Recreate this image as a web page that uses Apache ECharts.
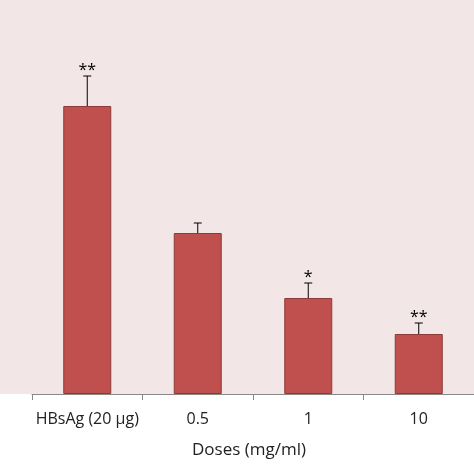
<!doctype html>
<html>
<head>
<meta charset="utf-8">
<script src="https://cdn.jsdelivr.net/npm/echarts@6/dist/echarts.min.js"></script>
<style>html,body{margin:0;background:#fff}#c{width:474px;height:474px}</style>
</head>
<body>
<div id="c"></div>
<script>
var categories = ['HBsAg (20 μg)', '0.5', '1', '10'];
var values = [288, 161, 96, 60];
var errors = [30, 10, 15, 11];
var marks = ['**', '', '*', '**'];

var chart = echarts.init(document.getElementById('c'));
chart.setOption({
	graphic: [{type: 'rect', z: -10, shape: {x: 0, y: 0, width: 474, height: 394}, style: {fill: '#f3e6e6'}}],
	grid: {left: 32, width: 472, top: 0, bottom: 80},
	xAxis: {
		type: 'category', data: categories,
		name: 'Doses (mg/ml)', nameLocation: 'middle', nameGap: 48,
		nameTextStyle: {color: '#222', fontSize: 17, fontFamily: 'Open Sans', padding: [0, 8, 0, 0]},
		axisLine: {lineStyle: {color: '#888'}},
		axisTick: {show: true, length: 6, lineStyle: {color: '#888'}},
		axisLabel: {color: '#222', fontSize: 16, fontFamily: 'Open Sans', margin: 17, interval: 0}
	},
	yAxis: {type: 'value', min: 0, max: 394, show: false},
	series: [{
		type: 'bar', data: values, barWidth: 48,
		itemStyle: {color: '#c0504d', borderColor: '#8c3b39', borderWidth: 1}
	}, {
		type: 'custom',
		data: values.map(function(v, i){ return [i, v, v + errors[i], marks[i]]; }),
		renderItem: function(params, api){
			var b = api.coord([api.value(0), api.value(1)]);
			var t = api.coord([api.value(0), api.value(2)]);
			return {type: 'group', children: [
				{type: 'line', shape: {x1: b[0], y1: b[1], x2: t[0], y2: t[1]}, style: {stroke: '#000', lineWidth: 1}},
				{type: 'line', shape: {x1: t[0]-4, y1: t[1], x2: t[0]+4, y2: t[1]}, style: {stroke: '#000', lineWidth: 1}},
				{type: 'text', x: t[0], y: t[1]+2, style: {text: marks[params.dataIndex], fill: '#000', font: '16px Open Sans', align: 'center', verticalAlign: 'bottom'}}
			]};
		}
	}]
});
</script>
</body>
</html>
